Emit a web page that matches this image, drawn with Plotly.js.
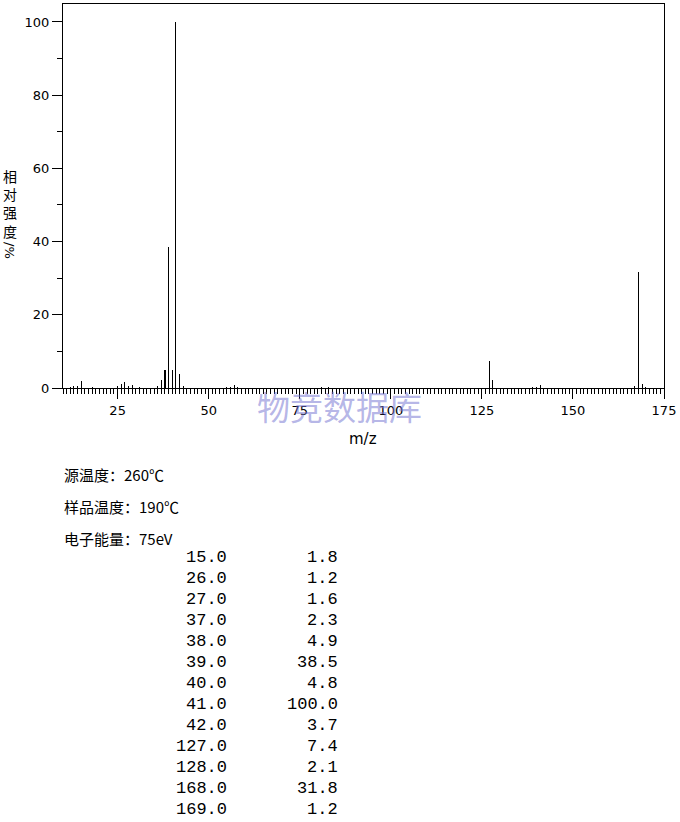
<!DOCTYPE html>
<html>
<head>
<meta charset="utf-8">
<script src="https://cdn.plot.ly/plotly-3.0.1.min.js"></script>
<style>
html,body{margin:0;padding:0;background:#fff;}
#chart{width:680px;height:822px;}
</style>
</head>
<body>
<div id="chart"></div>
<script>
// Listed peaks (m/z, relative intensity %)
const tableMz = [15.0, 26.0, 27.0, 37.0, 38.0, 39.0, 40.0, 41.0, 42.0, 127.0, 128.0, 168.0, 169.0];
const tableInt = [1.8, 1.2, 1.6, 2.3, 4.9, 38.5, 4.8, 100.0, 3.7, 7.4, 2.1, 31.8, 1.2];
// Small unlisted peaks visible in the spectrum (estimated)
const minorMz = [12, 13, 14, 18, 25, 28, 29, 31, 36, 43, 55, 56, 57, 58, 81, 83, 139, 140, 141, 167, 170];
const minorInt = [0.3, 0.5, 0.6, 0.4, 0.5, 0.5, 0.7, 0.3, 0.6, 0.5, 0.3, 0.4, 0.8, 0.3, 0.3, 0.3, 0.3, 0.4, 0.7, 0.5, 0.4];
// Axis tick values
const xTickVals = [25, 50, 75, 100, 125, 150, 175];
const yTickVals = [0, 20, 40, 60, 80, 100];
// Texts
const yTitleChars = ['相', '对', '强', '度'];
const yTitleUnit = '/%';
const xTitle = 'm/z';
const watermark = '物竞数据库';
const conditions = ['源温度：260℃', '样品温度：190℃', '电子能量：75eV'];

const allMz = tableMz.concat(minorMz);
const allInt = tableInt.concat(minorInt);

// plot box geometry (pixels)
const L = 63, R = 664, T = 4, B = 388;
const pxX = px => (px - L) / (R - L);
const pxY = py => (B - py) / (B - T);

const annotations = [];
annotations.push({text: yTitleChars.join('<br>'), xref: 'paper', yref: 'paper', x: pxX(10), y: pxY(203),
  xanchor: 'center', yanchor: 'middle', showarrow: false, align: 'center',
  font: {family: 'Noto Sans CJK SC', size: 14, color: '#000'}});
annotations.push({text: yTitleUnit, xref: 'paper', yref: 'paper', x: pxX(10), y: pxY(250),
  xanchor: 'center', yanchor: 'middle', showarrow: false, textangle: 90,
  font: {family: 'DejaVu Sans', size: 13, color: '#000'}});
annotations.push({text: xTitle, xref: 'paper', yref: 'paper', x: pxX(363), y: pxY(439),
  xanchor: 'center', yanchor: 'middle', showarrow: false,
  font: {family: 'DejaVu Sans', size: 15, color: '#000'}});
annotations.push({text: watermark, xref: 'paper', yref: 'paper', x: pxX(339), y: pxY(406),
  xanchor: 'center', yanchor: 'middle', showarrow: false,
  font: {family: 'Noto Sans CJK SC', size: 33, color: 'rgba(120,120,210,0.55)'}});
conditions.forEach((t, i) => {
  annotations.push({text: t, xref: 'paper', yref: 'paper', x: pxX(62), y: pxY(474 + i * 32),
    xanchor: 'left', yanchor: 'middle', showarrow: false,
    font: {family: 'Noto Sans CJK SC', size: 15, color: '#000'}});
});
tableMz.forEach((m, i) => {
  const y = pxY(557 + i * 21);
  annotations.push({text: m.toFixed(1), xref: 'paper', yref: 'paper', x: pxX(229), y: y,
    xanchor: 'right', yanchor: 'middle', showarrow: false,
    font: {family: 'Liberation Mono', size: 17, color: '#000'}});
  annotations.push({text: tableInt[i].toFixed(1), xref: 'paper', yref: 'paper', x: pxX(340), y: y,
    xanchor: 'right', yanchor: 'middle', showarrow: false,
    font: {family: 'Liberation Mono', size: 17, color: '#000'}});
});

const trace = {
  type: 'bar', x: allMz, y: allInt, width: 0.28,
  marker: {color: '#000', line: {width: 0}},
  hoverinfo: 'x+y'
};

const layout = {
  width: 680, height: 822,
  margin: {l: L, r: 680 - R, t: T, b: 822 - B, pad: 0},
  paper_bgcolor: '#fff', plot_bgcolor: '#fff',
  showlegend: false,
  bargap: 0,
  xaxis: {
    range: [10, 175], showgrid: false, zeroline: false,
    showline: true, linecolor: '#000', linewidth: 1, mirror: true,
    tickmode: 'array', tickvals: xTickVals, ticktext: xTickVals.map(String),
    ticks: 'outside', ticklen: 10, tickwidth: 1, tickcolor: '#000',
    minor: {dtick: 1, tick0: 0, ticks: 'outside', ticklen: 5, tickwidth: 1, tickcolor: '#000', showgrid: false},
    tickfont: {family: 'DejaVu Sans', size: 13, color: '#000'},
    fixedrange: true
  },
  yaxis: {
    range: [0, 104.9], showgrid: false, zeroline: false,
    showline: true, linecolor: '#000', linewidth: 1, mirror: true,
    tickmode: 'array', tickvals: yTickVals, ticktext: yTickVals.map(String),
    ticks: 'outside', ticklen: 10, tickwidth: 1, tickcolor: '#000',
    minor: {dtick: 10, tick0: 0, ticks: 'outside', ticklen: 5, tickwidth: 1, tickcolor: '#000', showgrid: false},
    tickfont: {family: 'DejaVu Sans', size: 13, color: '#000'},
    fixedrange: true
  },
  annotations: annotations
};

Plotly.newPlot('chart', [trace], layout, {displayModeBar: false, staticPlot: true});
</script>
</body>
</html>
